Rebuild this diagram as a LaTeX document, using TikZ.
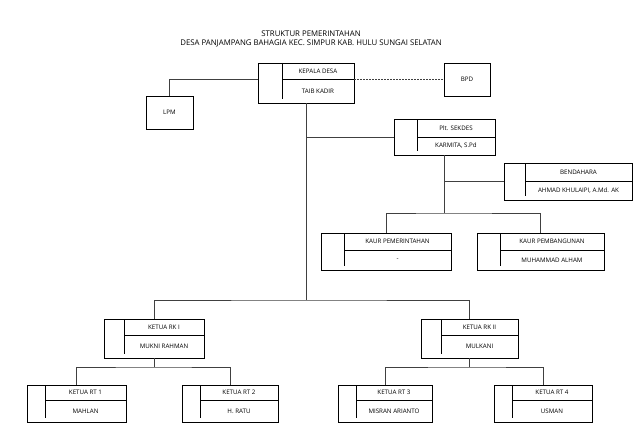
\documentclass[tikz,border=0pt]{standalone}
\usepackage{fontspec}
\setmainfont{Open Sans}
\newcommand\obox[9]{%
  \node[bx, minimum width={(#4-#2)*1pt}, minimum height={(#5-#3)*1pt}] (#1) at ({(#2+#4)/2},{(#3+#5)/2}) {};
  \draw[thin] (#6,#3) -- (#6,#5-4);
  \draw[thin] (#6,#7) -- (#4,#7);
  \node[tx] (#1t) at ({(#6+#4)/2},{(#3+#7)/2}) {#8};
  \node[tx] (#1b) at ({(#6+#4)/2},{(#7+#5)/2}) {#9};}
\begin{document}
\begin{tikzpicture}[x=1pt,y=-1pt,
  bx/.style={draw,rectangle,inner sep=0pt,line width=0.6pt},
  tx/.style={font=\fontsize{6.2}{7}\selectfont,inner sep=0pt},
  ln/.style={line width=0.6pt,draw=black!75}]
\useasboundingbox (0,0) rectangle (640,444);
\node[font=\fontsize{7.8}{9.5}\selectfont,align=center] (title) at (311,39) {STRUKTUR PEMERINTAHAN\\DESA PANJAMPANG BAHAGIA KEC. SIMPUR KAB. HULU SUNGAI SELATAN};
\obox{kd}{258}{63}{354}{103}{282}{79}{KEPALA DESA}{TAIB KADIR}
\node[bx,minimum width=46pt,minimum height=33pt] (bpd) at (467,79.5) {};
\node[tx] at (bpd) {BPD};
\node[bx,minimum width=47pt,minimum height=33pt] (lpm) at (169.5,112.5) {};
\node[tx] at (lpm) {LPM};
\obox{sk}{394}{119}{495}{155}{417}{137}{Plt. SEKDES}{KARMITA, S.Pd}
\obox{bd}{504}{163}{632}{200}{525}{181}{BENDAHARA}{AHMAD KHULAIPI, A.Md. AK}
\obox{kp}{321}{233}{451}{270}{344}{250}{KAUR PEMERINTAHAN}{-}
\obox{kb}{477}{233}{604}{270}{500}{250}{KAUR PEMBANGUNAN}{MUHAMMAD ALHAM}
\obox{rk1}{104}{319}{204}{358}{124}{335}{KETUA RK I}{MUKNI RAHMAN}
\obox{rk2}{421}{319}{518}{358}{441}{335}{KETUA RK II}{MULKANI}
\obox{rt1}{27}{385}{126}{422}{45}{400}{KETUA RT 1}{MAHLAN}
\obox{rt2}{182}{385}{278}{422}{200}{400}{KETUA RT 2}{H. RATU}
\obox{rt3}{338}{385}{432}{422}{356}{400}{KETUA RT 3}{MISRAN ARIANTO}
\obox{rt4}{494}{385}{592}{422}{512}{400}{KETUA RT 4}{USMAN}
\coordinate (kde) at (354,79);
\coordinate (kdw) at (258,79);
\coordinate (bpdw) at (444,79);
\draw[ln,dash pattern=on 2pt off 1pt] (kde) -- (bpdw);
\draw[ln] (lpm.north) |- (kdw);
\coordinate (j1) at (306,137);
\coordinate (j2) at (306,300);
\draw[ln] (kd.south) -- (j2);
\draw[ln] (j1) -- (sk.west);
\draw[ln] (sk.south) -- (444.5,213);
\draw[ln] (444.5,181.5) -- (bd.west);
\draw[ln] (kp.north) |- (444.5,213) -| (kb.north);
\draw[ln] (rk1.north) |- (j2) -| (rk2.north);
\draw[ln] (rk1.south) -- (154,367);
\draw[ln] (rt1.north) |- (154,367) -| (rt2.north);
\draw[ln] (rk2.south) -- (469.5,367);
\draw[ln] (rt3.north) |- (469.5,367) -| (rt4.north);
\end{tikzpicture}
\end{document}
